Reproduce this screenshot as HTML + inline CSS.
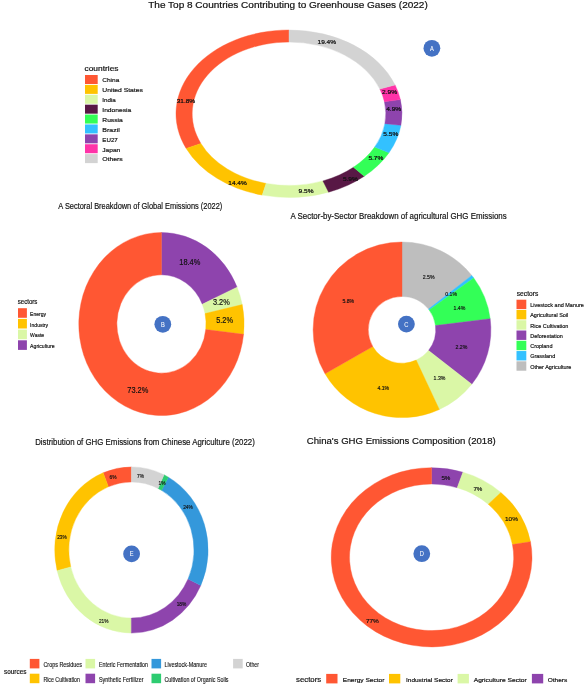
<!DOCTYPE html>
<html><head><meta charset="utf-8"><title>Greenhouse gas charts</title>
<style>
html,body{margin:0;padding:0;background:#fff;}
svg{display:block;font-family:"Liberation Sans",Arial,sans-serif;}
</style></head><body>
<svg width="588" height="685" viewBox="0 0 588 685">
<rect width="588" height="685" fill="#ffffff"/>
<text x="148.2" y="7.8" font-size="8.4" text-anchor="start" fill="#111111" stroke="#111111" stroke-width="0.18" textLength="279.6" lengthAdjust="spacingAndGlyphs">The Top 8 Countries Contributing to Greenhouse Gases (2022)</text>
<path d="M289.00 30.00A113.00 83.75 0 0 0 186.16 148.45L200.90 143.46A96.80 71.70 0 0 1 289.00 42.05Z" fill="#FF5733" stroke="#FF5733" stroke-width="0.4"/>
<path d="M186.16 148.45A113.00 83.75 0 0 0 262.28 195.12L266.11 183.42A96.80 71.70 0 0 1 200.90 143.46Z" fill="#FFC300" stroke="#FFC300" stroke-width="0.4"/>
<path d="M262.28 195.12A113.00 83.75 0 0 0 328.61 192.19L322.93 180.90A96.80 71.70 0 0 1 266.11 183.42Z" fill="#DAF7A6" stroke="#DAF7A6" stroke-width="0.4"/>
<path d="M328.61 192.19A113.00 83.75 0 0 0 364.26 176.22L353.47 167.23A96.80 71.70 0 0 1 322.93 180.90Z" fill="#581845" stroke="#581845" stroke-width="0.4"/>
<path d="M364.26 176.22A113.00 83.75 0 0 0 389.03 152.71L374.69 147.10A96.80 71.70 0 0 1 353.47 167.23Z" fill="#33FF57" stroke="#33FF57" stroke-width="0.4"/>
<path d="M389.03 152.71A113.00 83.75 0 0 0 400.92 125.29L384.88 123.63A96.80 71.70 0 0 1 374.69 147.10Z" fill="#33C1FF" stroke="#33C1FF" stroke-width="0.4"/>
<path d="M400.92 125.29A113.00 83.75 0 0 0 400.38 99.61L384.41 101.64A96.80 71.70 0 0 1 384.88 123.63Z" fill="#8E44AD" stroke="#8E44AD" stroke-width="0.4"/>
<path d="M400.38 99.61A113.00 83.75 0 0 0 395.08 84.89L379.87 89.04A96.80 71.70 0 0 1 384.41 101.64Z" fill="#FF33A8" stroke="#FF33A8" stroke-width="0.4"/>
<path d="M395.08 84.89A113.00 83.75 0 0 0 289.00 30.00L289.00 42.05A96.80 71.70 0 0 1 379.87 89.04Z" fill="#D3D3D3" stroke="#D3D3D3" stroke-width="0.4"/>
<text x="185.9" y="103.4" font-size="5.2" text-anchor="middle" fill="#111111" stroke="#111111" stroke-width="0.2" textLength="18.5" lengthAdjust="spacingAndGlyphs">31.8%</text>
<text x="237.5" y="184.9" font-size="5.2" text-anchor="middle" fill="#111111" stroke="#111111" stroke-width="0.2" textLength="18.5" lengthAdjust="spacingAndGlyphs">14.4%</text>
<text x="306.0" y="193.4" font-size="5.2" text-anchor="middle" fill="#111111" stroke="#111111" stroke-width="0.2" textLength="15.0" lengthAdjust="spacingAndGlyphs">9.5%</text>
<text x="350.4" y="180.5" font-size="5.2" text-anchor="middle" fill="#111111" stroke="#111111" stroke-width="0.2" textLength="15.0" lengthAdjust="spacingAndGlyphs">5.9%</text>
<text x="375.9" y="160.3" font-size="5.2" text-anchor="middle" fill="#111111" stroke="#111111" stroke-width="0.2" textLength="15.0" lengthAdjust="spacingAndGlyphs">5.7%</text>
<text x="390.8" y="135.9" font-size="5.2" text-anchor="middle" fill="#111111" stroke="#111111" stroke-width="0.2" textLength="15.0" lengthAdjust="spacingAndGlyphs">5.5%</text>
<text x="393.7" y="111.2" font-size="5.2" text-anchor="middle" fill="#111111" stroke="#111111" stroke-width="0.2" textLength="15.0" lengthAdjust="spacingAndGlyphs">4.9%</text>
<text x="389.5" y="93.8" font-size="5.2" text-anchor="middle" fill="#111111" stroke="#111111" stroke-width="0.2" textLength="15.0" lengthAdjust="spacingAndGlyphs">2.9%</text>
<text x="326.8" y="43.9" font-size="5.2" text-anchor="middle" fill="#111111" stroke="#111111" stroke-width="0.2" textLength="18.5" lengthAdjust="spacingAndGlyphs">19.4%</text>
<circle cx="431.9" cy="48.3" r="8.4" fill="#4472C4"/>
<text x="0.0" y="0.0" font-size="6.5" text-anchor="middle" fill="#ffffff" stroke="#ffffff" stroke-width="0.05" transform="translate(431.90 50.80) scale(0.88 1)">A</text>
<text x="84.5" y="71.3" font-size="6.6" text-anchor="start" fill="#111111" stroke="#111111" stroke-width="0.18" textLength="34.0" lengthAdjust="spacingAndGlyphs">countries</text>
<rect x="85" y="75.00" width="12.7" height="9.0" fill="#FF5733"/>
<text x="102.3" y="82.3" font-size="6.0" text-anchor="start" fill="#111111" stroke="#111111" stroke-width="0.18" textLength="17.0" lengthAdjust="spacingAndGlyphs">China</text>
<rect x="85" y="84.89" width="12.7" height="9.0" fill="#FFC300"/>
<text x="102.3" y="92.2" font-size="6.0" text-anchor="start" fill="#111111" stroke="#111111" stroke-width="0.18" textLength="40.5" lengthAdjust="spacingAndGlyphs">United States</text>
<rect x="85" y="94.78" width="12.7" height="9.0" fill="#DAF7A6"/>
<text x="102.3" y="102.1" font-size="6.0" text-anchor="start" fill="#111111" stroke="#111111" stroke-width="0.18" textLength="13.5" lengthAdjust="spacingAndGlyphs">India</text>
<rect x="85" y="104.67" width="12.7" height="9.0" fill="#581845"/>
<text x="102.3" y="112.0" font-size="6.0" text-anchor="start" fill="#111111" stroke="#111111" stroke-width="0.18" textLength="29.0" lengthAdjust="spacingAndGlyphs">Indonesia</text>
<rect x="85" y="114.56" width="12.7" height="9.0" fill="#33FF57"/>
<text x="102.3" y="121.9" font-size="6.0" text-anchor="start" fill="#111111" stroke="#111111" stroke-width="0.18" textLength="20.5" lengthAdjust="spacingAndGlyphs">Russia</text>
<rect x="85" y="124.45" width="12.7" height="9.0" fill="#33C1FF"/>
<text x="102.3" y="131.8" font-size="6.0" text-anchor="start" fill="#111111" stroke="#111111" stroke-width="0.18" textLength="17.5" lengthAdjust="spacingAndGlyphs">Brazil</text>
<rect x="85" y="134.34" width="12.7" height="9.0" fill="#8E44AD"/>
<text x="102.3" y="141.6" font-size="6.0" text-anchor="start" fill="#111111" stroke="#111111" stroke-width="0.18" textLength="15.5" lengthAdjust="spacingAndGlyphs">EU27</text>
<rect x="85" y="144.23" width="12.7" height="9.0" fill="#FF33A8"/>
<text x="102.3" y="151.5" font-size="6.0" text-anchor="start" fill="#111111" stroke="#111111" stroke-width="0.18" textLength="18.0" lengthAdjust="spacingAndGlyphs">Japan</text>
<rect x="85" y="154.12" width="12.7" height="9.0" fill="#D3D3D3"/>
<text x="102.3" y="161.4" font-size="6.0" text-anchor="start" fill="#111111" stroke="#111111" stroke-width="0.18" textLength="20.5" lengthAdjust="spacingAndGlyphs">Others</text>
<text x="58.3" y="209.0" font-size="9" text-anchor="start" fill="#111111" stroke="#111111" stroke-width="0.18" textLength="164.0" lengthAdjust="spacingAndGlyphs">A Sectoral Breakdown of Global Emissions (2022)</text>
<path d="M161.45 232.50A82.65 91.50 0 0 1 237.09 287.13L202.27 304.18A44.60 49.20 0 0 0 161.45 274.80Z" fill="#8E44AD" stroke="#8E44AD" stroke-width="0.4"/>
<path d="M237.09 287.13A82.65 91.50 0 0 1 242.22 304.60L205.04 313.57A44.60 49.20 0 0 0 202.27 304.18Z" fill="#DAF7A6" stroke="#DAF7A6" stroke-width="0.4"/>
<path d="M242.22 304.60A82.65 91.50 0 0 1 243.57 334.33L205.77 329.55A44.60 49.20 0 0 0 205.04 313.57Z" fill="#FFC300" stroke="#FFC300" stroke-width="0.4"/>
<path d="M243.57 334.33A82.65 91.50 0 1 1 161.45 232.50L161.45 274.80A44.60 49.20 0 1 0 205.77 329.55Z" fill="#FF5733" stroke="#FF5733" stroke-width="0.4"/>
<text x="189.8" y="265.4" font-size="8.8" text-anchor="middle" fill="#111111" stroke="#111111" stroke-width="0.18" textLength="21.0" lengthAdjust="spacingAndGlyphs">18.4%</text>
<text x="221.3" y="305.2" font-size="8.8" text-anchor="middle" fill="#111111" stroke="#111111" stroke-width="0.18" textLength="16.8" lengthAdjust="spacingAndGlyphs">3.2%</text>
<text x="224.6" y="322.6" font-size="8.8" text-anchor="middle" fill="#111111" stroke="#111111" stroke-width="0.18" textLength="16.8" lengthAdjust="spacingAndGlyphs">5.2%</text>
<text x="137.8" y="392.6" font-size="8.8" text-anchor="middle" fill="#111111" stroke="#111111" stroke-width="0.18" textLength="21.0" lengthAdjust="spacingAndGlyphs">73.2%</text>
<circle cx="162.8" cy="324.3" r="8.4" fill="#4472C4"/>
<text x="0.0" y="0.0" font-size="6.5" text-anchor="middle" fill="#ffffff" stroke="#ffffff" stroke-width="0.05" transform="translate(162.80 326.80) scale(0.88 1)">B</text>
<text x="17.7" y="304.0" font-size="6.3" text-anchor="start" fill="#111111" stroke="#111111" stroke-width="0.18" textLength="19.7" lengthAdjust="spacingAndGlyphs">sectors</text>
<rect x="18" y="308.20" width="8.9" height="9.6" fill="#FF5733"/>
<text x="30.1" y="316.0" font-size="6.1" text-anchor="start" fill="#111111" stroke="#111111" stroke-width="0.18" textLength="15.8" lengthAdjust="spacingAndGlyphs">Energy</text>
<rect x="18" y="318.90" width="8.9" height="9.6" fill="#FFC300"/>
<text x="30.1" y="326.7" font-size="6.1" text-anchor="start" fill="#111111" stroke="#111111" stroke-width="0.18" textLength="18.0" lengthAdjust="spacingAndGlyphs">Industry</text>
<rect x="18" y="329.60" width="8.9" height="9.6" fill="#DAF7A6"/>
<text x="30.1" y="337.4" font-size="6.1" text-anchor="start" fill="#111111" stroke="#111111" stroke-width="0.18" textLength="14.0" lengthAdjust="spacingAndGlyphs">Waste</text>
<rect x="18" y="340.30" width="8.9" height="9.6" fill="#8E44AD"/>
<text x="30.1" y="348.1" font-size="6.1" text-anchor="start" fill="#111111" stroke="#111111" stroke-width="0.18" textLength="24.6" lengthAdjust="spacingAndGlyphs">Agriculture</text>
<text x="290.5" y="219.3" font-size="8.8" text-anchor="start" fill="#111111" stroke="#111111" stroke-width="0.18" textLength="216.2" lengthAdjust="spacingAndGlyphs">A Sector-by-Sector Breakdown of agricultural GHG Emissions</text>
<path d="M402.00 242.00A88.90 87.80 0 0 1 471.79 275.41L428.50 309.11A33.75 33.40 0 0 0 402.00 296.40Z" fill="#BEBEBE" stroke="#BEBEBE" stroke-width="0.4"/>
<path d="M471.79 275.41A88.90 87.80 0 0 1 473.73 277.94L429.23 310.07A33.75 33.40 0 0 0 428.50 309.11Z" fill="#33C1FF" stroke="#33C1FF" stroke-width="0.4"/>
<path d="M473.73 277.94A88.90 87.80 0 0 1 490.19 318.73L435.48 325.59A33.75 33.40 0 0 0 429.23 310.07Z" fill="#33FF57" stroke="#33FF57" stroke-width="0.4"/>
<path d="M490.19 318.73A88.90 87.80 0 0 1 471.79 384.19L428.50 350.49A33.75 33.40 0 0 0 435.48 325.59Z" fill="#8E44AD" stroke="#8E44AD" stroke-width="0.4"/>
<path d="M471.79 384.19A88.90 87.80 0 0 1 439.33 409.49L416.17 360.11A33.75 33.40 0 0 0 428.50 350.49Z" fill="#DAF7A6" stroke="#DAF7A6" stroke-width="0.4"/>
<path d="M439.33 409.49A88.90 87.80 0 0 1 325.01 373.70L372.77 346.50A33.75 33.40 0 0 0 416.17 360.11Z" fill="#FFC300" stroke="#FFC300" stroke-width="0.4"/>
<path d="M325.01 373.70A88.90 87.80 0 0 1 402.00 242.00L402.00 296.40A33.75 33.40 0 0 0 372.77 346.50Z" fill="#FF5733" stroke="#FF5733" stroke-width="0.4"/>
<text x="428.6" y="278.5" font-size="5.2" text-anchor="middle" fill="#111111" stroke="#111111" stroke-width="0.15" textLength="11.8" lengthAdjust="spacingAndGlyphs">2.5%</text>
<text x="451.2" y="295.5" font-size="5.2" text-anchor="middle" fill="#111111" stroke="#111111" stroke-width="0.15" textLength="11.8" lengthAdjust="spacingAndGlyphs">0.1%</text>
<text x="459.4" y="310.1" font-size="5.2" text-anchor="middle" fill="#111111" stroke="#111111" stroke-width="0.15" textLength="11.8" lengthAdjust="spacingAndGlyphs">1.4%</text>
<text x="461.4" y="348.6" font-size="5.2" text-anchor="middle" fill="#111111" stroke="#111111" stroke-width="0.15" textLength="11.8" lengthAdjust="spacingAndGlyphs">2.2%</text>
<text x="439.5" y="379.9" font-size="5.2" text-anchor="middle" fill="#111111" stroke="#111111" stroke-width="0.15" textLength="11.8" lengthAdjust="spacingAndGlyphs">1.3%</text>
<text x="383.3" y="390.1" font-size="5.2" text-anchor="middle" fill="#111111" stroke="#111111" stroke-width="0.15" textLength="11.8" lengthAdjust="spacingAndGlyphs">4.1%</text>
<text x="348.3" y="302.6" font-size="5.2" text-anchor="middle" fill="#111111" stroke="#111111" stroke-width="0.15" textLength="11.8" lengthAdjust="spacingAndGlyphs">5.8%</text>
<circle cx="406.4" cy="324.1" r="8.4" fill="#4472C4"/>
<text x="0.0" y="0.0" font-size="6.5" text-anchor="middle" fill="#ffffff" stroke="#ffffff" stroke-width="0.05" transform="translate(406.40 326.60) scale(0.88 1)">C</text>
<text x="516.8" y="295.6" font-size="6.3" text-anchor="start" fill="#111111" stroke="#111111" stroke-width="0.18" textLength="21.4" lengthAdjust="spacingAndGlyphs">sectors</text>
<rect x="516.5" y="299.70" width="9.8" height="9.4" fill="#FF5733"/>
<text x="0.0" y="0.0" font-size="6.0" text-anchor="start" fill="#111111" stroke="#111111" stroke-width="0.18" transform="translate(530.20 307.10) scale(0.915 1)">Livestock and Manure</text>
<rect x="516.5" y="309.97" width="9.8" height="9.4" fill="#FFC300"/>
<text x="0.0" y="0.0" font-size="6.0" text-anchor="start" fill="#111111" stroke="#111111" stroke-width="0.18" transform="translate(530.20 317.37) scale(0.915 1)">Agricultural Soil</text>
<rect x="516.5" y="320.24" width="9.8" height="9.4" fill="#DAF7A6"/>
<text x="0.0" y="0.0" font-size="6.0" text-anchor="start" fill="#111111" stroke="#111111" stroke-width="0.18" transform="translate(530.20 327.64) scale(0.915 1)">Rice Cultivation</text>
<rect x="516.5" y="330.51" width="9.8" height="9.4" fill="#8E44AD"/>
<text x="0.0" y="0.0" font-size="6.0" text-anchor="start" fill="#111111" stroke="#111111" stroke-width="0.18" transform="translate(530.20 337.91) scale(0.915 1)">Deforestation</text>
<rect x="516.5" y="340.78" width="9.8" height="9.4" fill="#33FF57"/>
<text x="0.0" y="0.0" font-size="6.0" text-anchor="start" fill="#111111" stroke="#111111" stroke-width="0.18" transform="translate(530.20 348.18) scale(0.915 1)">Cropland</text>
<rect x="516.5" y="351.05" width="9.8" height="9.4" fill="#33C1FF"/>
<text x="0.0" y="0.0" font-size="6.0" text-anchor="start" fill="#111111" stroke="#111111" stroke-width="0.18" transform="translate(530.20 358.45) scale(0.915 1)">Grassland</text>
<rect x="516.5" y="361.32" width="9.8" height="9.4" fill="#BEBEBE"/>
<text x="0.0" y="0.0" font-size="6.0" text-anchor="start" fill="#111111" stroke="#111111" stroke-width="0.18" transform="translate(530.20 368.72) scale(0.915 1)">Other Agriculture</text>
<text x="35.2" y="444.7" font-size="9.2" text-anchor="start" fill="#111111" stroke="#111111" stroke-width="0.18" textLength="219.6" lengthAdjust="spacingAndGlyphs">Distribution of GHG Emissions from Chinese Agriculture (2022)</text>
<path d="M131.40 466.90A76.70 83.10 0 0 0 103.16 472.74L108.36 486.73A62.60 68.05 0 0 1 131.40 481.95Z" fill="#FF5733" stroke="#FF5733" stroke-width="0.4"/>
<path d="M103.16 472.74A76.70 83.10 0 0 0 57.11 570.67L70.77 566.92A62.60 68.05 0 0 1 108.36 486.73Z" fill="#FFC300" stroke="#FFC300" stroke-width="0.4"/>
<path d="M57.11 570.67A76.70 83.10 0 0 0 131.40 633.10L131.40 618.05A62.60 68.05 0 0 1 70.77 566.92Z" fill="#DAF7A6" stroke="#DAF7A6" stroke-width="0.4"/>
<path d="M131.40 633.10A76.70 83.10 0 0 0 200.80 585.38L188.04 578.97A62.60 68.05 0 0 1 131.40 618.05Z" fill="#8E44AD" stroke="#8E44AD" stroke-width="0.4"/>
<path d="M200.80 585.38A76.70 83.10 0 0 0 168.35 477.18L161.56 490.37A62.60 68.05 0 0 1 188.04 578.97Z" fill="#3498DB" stroke="#3498DB" stroke-width="0.4"/>
<path d="M168.35 477.18A76.70 83.10 0 0 0 164.06 474.81L158.05 488.43A62.60 68.05 0 0 1 161.56 490.37Z" fill="#2ECC71" stroke="#2ECC71" stroke-width="0.4"/>
<path d="M164.06 474.81A76.70 83.10 0 0 0 131.40 466.90L131.40 481.95A62.60 68.05 0 0 1 158.05 488.43Z" fill="#D3D3D3" stroke="#D3D3D3" stroke-width="0.4"/>
<text x="113.0" y="478.9" font-size="5.6" text-anchor="middle" fill="#111111" stroke="#111111" stroke-width="0.15" textLength="7.0" lengthAdjust="spacingAndGlyphs">6%</text>
<text x="140.5" y="478.1" font-size="5.6" text-anchor="middle" fill="#111111" stroke="#111111" stroke-width="0.15" textLength="7.0" lengthAdjust="spacingAndGlyphs">7%</text>
<text x="162.1" y="484.5" font-size="5.6" text-anchor="middle" fill="#111111" stroke="#111111" stroke-width="0.15" textLength="7.0" lengthAdjust="spacingAndGlyphs">1%</text>
<text x="188.0" y="508.7" font-size="5.6" text-anchor="middle" fill="#111111" stroke="#111111" stroke-width="0.15" textLength="9.6" lengthAdjust="spacingAndGlyphs">24%</text>
<text x="181.5" y="606.3" font-size="5.6" text-anchor="middle" fill="#111111" stroke="#111111" stroke-width="0.15" textLength="9.6" lengthAdjust="spacingAndGlyphs">18%</text>
<text x="103.7" y="623.4" font-size="5.6" text-anchor="middle" fill="#111111" stroke="#111111" stroke-width="0.15" textLength="9.6" lengthAdjust="spacingAndGlyphs">21%</text>
<text x="62.0" y="538.7" font-size="5.6" text-anchor="middle" fill="#111111" stroke="#111111" stroke-width="0.15" textLength="9.6" lengthAdjust="spacingAndGlyphs">23%</text>
<circle cx="131.6" cy="553.9" r="8.4" fill="#4472C4"/>
<text x="0.0" y="0.0" font-size="6.5" text-anchor="middle" fill="#ffffff" stroke="#ffffff" stroke-width="0.05" transform="translate(131.60 556.40) scale(0.88 1)">E</text>
<text x="4.0" y="674.3" font-size="6.3" text-anchor="start" fill="#111111" stroke="#111111" stroke-width="0.18" textLength="22.4" lengthAdjust="spacingAndGlyphs">sources</text>
<rect x="29.8" y="658.90" width="9.6" height="9.5" fill="#FF5733"/>
<text x="43.4" y="666.5" font-size="6.5" text-anchor="start" fill="#111111" stroke="#111111" stroke-width="0.12" textLength="38.7" lengthAdjust="spacingAndGlyphs">Crops Residues</text>
<rect x="29.8" y="673.70" width="9.6" height="9.5" fill="#FFC300"/>
<text x="43.4" y="681.7" font-size="6.5" text-anchor="start" fill="#111111" stroke="#111111" stroke-width="0.12" textLength="36.5" lengthAdjust="spacingAndGlyphs">Rice Cultivation</text>
<rect x="85.5" y="658.90" width="9.6" height="9.5" fill="#DAF7A6"/>
<text x="99.0" y="666.5" font-size="6.5" text-anchor="start" fill="#111111" stroke="#111111" stroke-width="0.12" textLength="49.0" lengthAdjust="spacingAndGlyphs">Enteric Fermentation</text>
<rect x="85.5" y="673.70" width="9.6" height="9.5" fill="#8E44AD"/>
<text x="99.0" y="681.7" font-size="6.5" text-anchor="start" fill="#111111" stroke="#111111" stroke-width="0.12" textLength="44.5" lengthAdjust="spacingAndGlyphs">Synthetic Fertilizer</text>
<rect x="151.5" y="658.90" width="9.6" height="9.5" fill="#3498DB"/>
<text x="164.5" y="666.5" font-size="6.5" text-anchor="start" fill="#111111" stroke="#111111" stroke-width="0.12" textLength="42.6" lengthAdjust="spacingAndGlyphs">Livestock-Manure</text>
<rect x="151.5" y="673.70" width="9.6" height="9.5" fill="#2ECC71"/>
<text x="164.5" y="681.7" font-size="6.5" text-anchor="start" fill="#111111" stroke="#111111" stroke-width="0.12" textLength="64.0" lengthAdjust="spacingAndGlyphs">Cultivation of Organic Soils</text>
<rect x="233.1" y="658.90" width="9.6" height="9.5" fill="#D3D3D3"/>
<text x="245.9" y="666.5" font-size="6.5" text-anchor="start" fill="#111111" stroke="#111111" stroke-width="0.12" textLength="13.0" lengthAdjust="spacingAndGlyphs">Other</text>
<text x="306.8" y="443.8" font-size="8.9" text-anchor="start" fill="#111111" stroke="#111111" stroke-width="0.18" textLength="188.9" lengthAdjust="spacingAndGlyphs">China's GHG Emissions Composition (2018)</text>
<path d="M431.60 467.70A100.40 89.60 0 0 1 462.93 472.17L457.22 487.66A82.10 73.30 0 0 0 431.60 484.00Z" fill="#8E44AD" stroke="#8E44AD" stroke-width="0.4"/>
<path d="M462.93 472.17A100.40 89.60 0 0 1 500.88 492.45L488.26 504.25A82.10 73.30 0 0 0 457.22 487.66Z" fill="#DAF7A6" stroke="#DAF7A6" stroke-width="0.4"/>
<path d="M500.88 492.45A100.40 89.60 0 0 1 530.47 541.74L512.45 544.57A82.10 73.30 0 0 0 488.26 504.25Z" fill="#FFC300" stroke="#FFC300" stroke-width="0.4"/>
<path d="M530.47 541.74A100.40 89.60 0 1 1 431.60 467.70L431.60 484.00A82.10 73.30 0 1 0 512.45 544.57Z" fill="#FF5733" stroke="#FF5733" stroke-width="0.4"/>
<text x="445.9" y="479.9" font-size="5.3" text-anchor="middle" fill="#111111" stroke="#111111" stroke-width="0.15" textLength="9.0" lengthAdjust="spacingAndGlyphs">5%</text>
<text x="477.9" y="490.6" font-size="5.3" text-anchor="middle" fill="#111111" stroke="#111111" stroke-width="0.15" textLength="9.0" lengthAdjust="spacingAndGlyphs">7%</text>
<text x="511.5" y="521.2" font-size="5.3" text-anchor="middle" fill="#111111" stroke="#111111" stroke-width="0.15" textLength="13.0" lengthAdjust="spacingAndGlyphs">10%</text>
<text x="372.4" y="622.6" font-size="5.3" text-anchor="middle" fill="#111111" stroke="#111111" stroke-width="0.15" textLength="13.0" lengthAdjust="spacingAndGlyphs">77%</text>
<circle cx="421.8" cy="553.7" r="8.4" fill="#4472C4"/>
<text x="0.0" y="0.0" font-size="6.5" text-anchor="middle" fill="#ffffff" stroke="#ffffff" stroke-width="0.05" transform="translate(421.80 556.20) scale(0.88 1)">D</text>
<text x="296.1" y="681.5" font-size="6.5" text-anchor="start" fill="#111111" stroke="#111111" stroke-width="0.18" textLength="25.0" lengthAdjust="spacingAndGlyphs">sectors</text>
<rect x="326.2" y="673.9" width="11.3" height="9.5" fill="#FF5733"/>
<text x="342.8" y="681.6" font-size="6.1" text-anchor="start" fill="#111111" stroke="#111111" stroke-width="0.18" textLength="41.6" lengthAdjust="spacingAndGlyphs">Energy Sector</text>
<rect x="389" y="673.9" width="11.3" height="9.5" fill="#FFC300"/>
<text x="406.0" y="681.6" font-size="6.1" text-anchor="start" fill="#111111" stroke="#111111" stroke-width="0.18" textLength="46.8" lengthAdjust="spacingAndGlyphs">Industrial Sector</text>
<rect x="457.6" y="673.9" width="11.3" height="9.5" fill="#DAF7A6"/>
<text x="473.7" y="681.6" font-size="6.1" text-anchor="start" fill="#111111" stroke="#111111" stroke-width="0.18" textLength="53.1" lengthAdjust="spacingAndGlyphs">Agriculture Sector</text>
<rect x="531.9" y="673.9" width="11.3" height="9.5" fill="#8E44AD"/>
<text x="547.7" y="681.6" font-size="6.1" text-anchor="start" fill="#111111" stroke="#111111" stroke-width="0.18" textLength="19.6" lengthAdjust="spacingAndGlyphs">Others</text>
</svg>
</body></html>
